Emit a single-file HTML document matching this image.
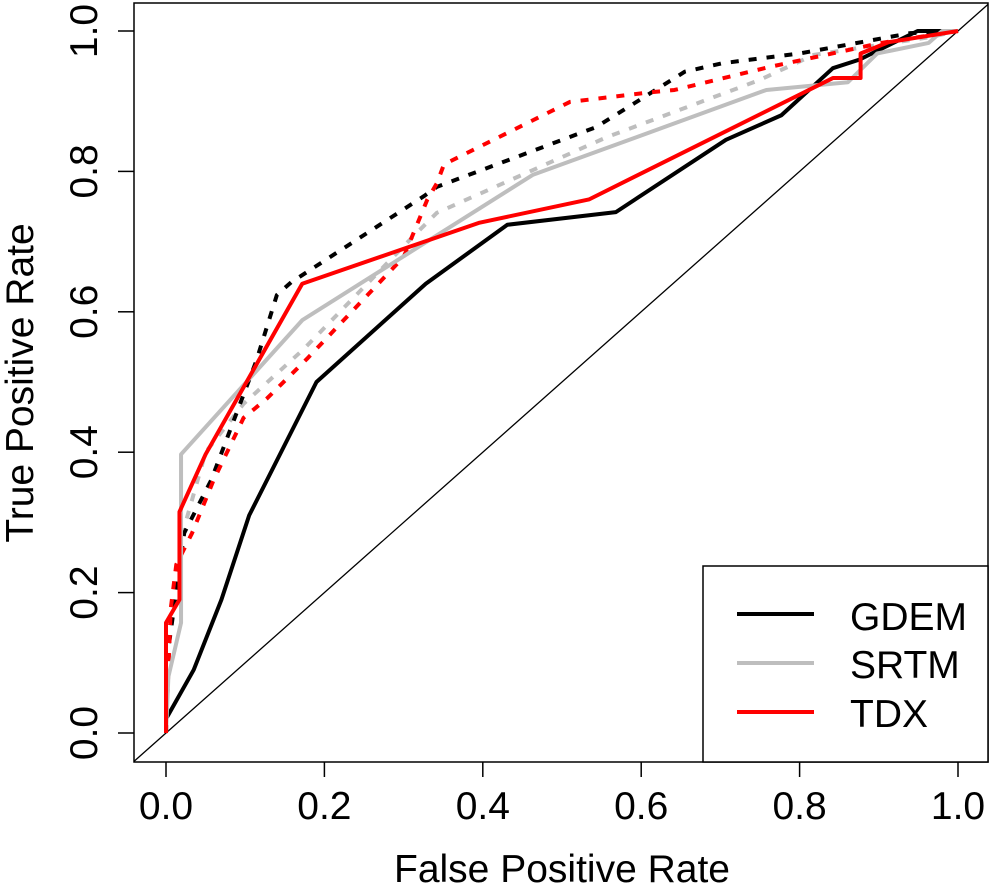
<!DOCTYPE html>
<html><head><meta charset="utf-8"><style>
body{margin:0;background:#fff}
svg text{font-family:"Liberation Sans",sans-serif;fill:#000}
</style></head><body>
<svg id="chart" width="992" height="889" viewBox="0 0 992 889">
<rect x="134" y="3" width="854" height="759" fill="none" stroke="#000" stroke-width="1.5"/>
<g id="axes"></g>
<g id="series"></g>
<rect x="703" y="566" width="285" height="196" fill="#fff" stroke="#000" stroke-width="1.5"/>
<g><line x1="737" y1="614" x2="814" y2="614" stroke="#000" stroke-width="4"/><text x="850" y="630" font-size="39">GDEM</text></g>
<g><line x1="737" y1="663" x2="814" y2="663" stroke="#bebebe" stroke-width="4"/><text x="850" y="678" font-size="39">SRTM</text></g>
<g><line x1="737" y1="712" x2="814" y2="712" stroke="#ff0000" stroke-width="4"/><text x="850" y="727" font-size="39">TDX</text></g>
<text x="562" y="882" font-size="39" text-anchor="middle">False Positive Rate</text>
<text x="0" y="0" font-size="39" text-anchor="middle" transform="translate(33,383) rotate(-90)">True Positive Rate</text>
</svg>
<script>
const xTicks=[0,0.2,0.4,0.6,0.8,1.0];
const yTicks=[0,0.2,0.4,0.6,0.8,1.0];
const gdemFpr=[0,0.035,0.07,0.105,0.19,0.328,0.431,0.568,0.707,0.777,0.842,0.875,0.949,1];
const gdemTpr=[0.02,0.09,0.19,0.31,0.5,0.64,0.724,0.742,0.845,0.88,0.947,0.959,1,1];
const srtmFpr=[0,0.003,0.019,0.019,0.172,0.463,0.758,0.861,0.898,0.963,0.98,1];
const srtmTpr=[0,0.08,0.157,0.397,0.588,0.795,0.916,0.927,0.968,0.983,1,1];
const tdxFpr=[0,0,0.017,0.017,0.05,0.172,0.396,0.534,0.842,0.877,0.877,0.912,1];
const tdxTpr=[0,0.157,0.19,0.315,0.397,0.64,0.727,0.76,0.933,0.933,0.968,0.984,1];
const gdemDashFpr=[0,0.003,0.023,0.057,0.114,0.14,0.158,0.326,0.342,0.543,0.655,0.702,0.8,0.94,1];
const gdemDashTpr=[0,0.12,0.285,0.36,0.53,0.624,0.642,0.765,0.778,0.863,0.942,0.954,0.968,0.997,1];
const srtmDashFpr=[0,0.003,0.01,0.023,0.05,0.098,0.174,0.31,0.342,0.557,0.749,0.818,0.963,1];
const srtmDashTpr=[0,0.12,0.2,0.293,0.4,0.469,0.547,0.705,0.741,0.849,0.93,0.966,0.991,1];
const tdxDashFpr=[0,0.006,0.013,0.033,0.06,0.098,0.127,0.178,0.3,0.33,0.342,0.351,0.51,0.614,0.642,0.763,0.903,1];
const tdxDashTpr=[0,0.177,0.24,0.285,0.36,0.449,0.476,0.533,0.678,0.76,0.783,0.81,0.899,0.913,0.916,0.949,0.983,1];
const NS='http://www.w3.org/2000/svg';
const sx=v=>166+792*v, sy=v=>733-702*v;
const axes=document.getElementById('axes'), series=document.getElementById('series');
function mk(tag,attrs,parent){const e=document.createElementNS(NS,tag);for(const k in attrs)e.setAttribute(k,attrs[k]);parent.appendChild(e);return e;}
xTicks.forEach(v=>{
 const t=mk('line',{x1:sx(v),x2:sx(v),y1:762,y2:777,stroke:'#000','stroke-width':1.5},axes);
 
 
 const l=mk('text',{x:sx(v),y:819,'font-size':39,'text-anchor':'middle'},axes);l.textContent=v.toFixed(1);
 
 
});
yTicks.forEach(v=>{
 const t=mk('line',{x1:118,x2:134,y1:sy(v),y2:sy(v),stroke:'#000','stroke-width':1.5},axes);
 
 
 const l=mk('text',{x:0,y:0,'font-size':39,'text-anchor':'middle',transform:`translate(97,${sy(v)}) rotate(-90)`},axes);l.textContent=v.toFixed(1);
 
 
});
const d=mk('line',{x1:134,y1:sy((134-166)/792),x2:988,y2:sy((988-166)/792),stroke:'#000','stroke-width':1.3},series);


function line(xs,ys,color,dash,name){
 const p=mk('polyline',{points:xs.map((x,i)=>sx(x)+','+sy(ys[i])).join(' '),fill:'none',stroke:color,'stroke-width':4,'stroke-linejoin':'round'},series);
 if(dash)p.setAttribute('stroke-dasharray','8 10');
 
 
}
line(srtmDashFpr,srtmDashTpr,'#bebebe',true,'srtm-dashed-curve');
line(gdemDashFpr,gdemDashTpr,'#000',true,'gdem-dashed-curve');
line(tdxDashFpr,tdxDashTpr,'#ff0000',true,'tdx-dashed-curve');
line(gdemFpr,gdemTpr,'#000',false,'gdem-curve');
line(srtmFpr,srtmTpr,'#bebebe',false,'srtm-curve');
line(tdxFpr,tdxTpr,'#ff0000',false,'tdx-curve');
</script>
</body></html>
